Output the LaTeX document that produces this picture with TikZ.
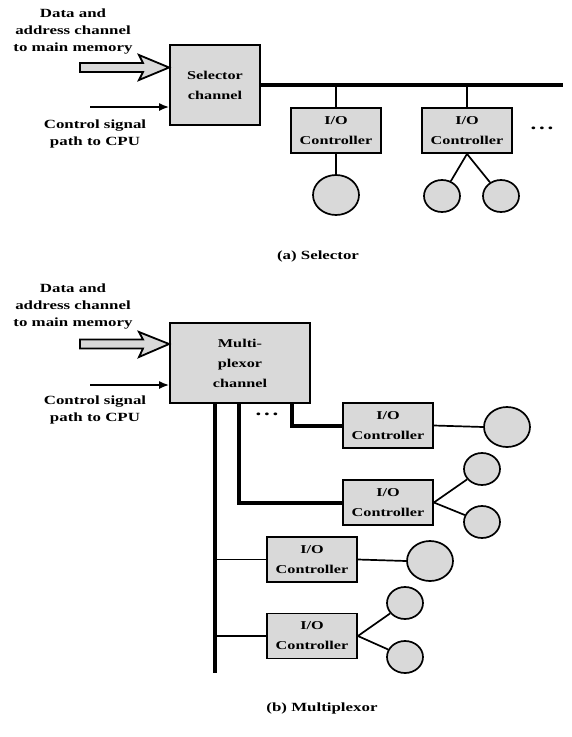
\documentclass[tikz,border=0pt]{standalone}
\usepackage{fontspec}
\setmainfont{Liberation Serif}[FakeStretch=1.35]
\usetikzlibrary{positioning, shapes.geometric, arrows, arrows.meta}
\definecolor{boxgray}{RGB}{217,217,217}
\tikzset{
  chan/.style={draw, line width=1.8pt, fill=boxgray, inner sep=0pt, align=center,
    font=\fontsize{12}{20}\selectfont\bfseries},
  ioc/.style={draw, line width=1.8pt, fill=boxgray, inner sep=0pt, align=center,
    minimum width=90pt, minimum height=45pt, font=\fontsize{12}{20}\selectfont\bfseries},
  bigdev/.style={draw, ellipse, line width=1.7pt, fill=boxgray, minimum width=46pt, minimum height=40pt},
  smalldev/.style={draw, ellipse, line width=1.7pt, fill=boxgray, minimum width=36pt, minimum height=32pt},
  lbl/.style={align=center, font=\fontsize{12.5}{17}\selectfont\bfseries},
  dots/.style={font=\fontsize{17}{17}\selectfont\bfseries},
  bus/.style={line width=4pt},
  link/.style={line width=1.7pt},
  ctl/.style={-{Latex[length=10pt, width=8pt]}, line width=1.6pt},
  fat/.style={draw, line width=1.8pt, fill=boxgray, line join=miter}
}
\begin{document}
\begin{tikzpicture}[x=1pt, y=-1pt]
\useasboundingbox (0,0) rectangle (572,737);

\node[chan, minimum width=90pt, minimum height=80pt] (sel) at (215,85) {Selector\\channel};
\node[lbl] (dataA) at (73,32) {Data and\\address channel\\to main memory};
\node[lbl] (ctlA) at (95,134) {Control signal\\path to CPU};
\draw[fat] (80,63) -- (143,63) -- (139,55) -- (sel.west |- 0,67.5) -- (139,80) -- (143,72) -- (80,72) -- cycle;
\draw[ctl] (90,107) -- (sel.west |- 0,107);
\coordinate (busA) at (563,85);
\draw[bus] (sel.east |- busA) -- (busA);
\node[ioc] (ioa1) at (336,130.5) {I/O\\Controller};
\node[ioc] (ioa2) at (467,130.5) {I/O\\Controller};
\draw[link] (ioa1.north |- busA) -- (ioa1.north);
\draw[link] (ioa2.north |- busA) -- (ioa2.north);
\node[dots] (dotsA) at (542,128) {.\,.\,.};
\node[bigdev] (da1) at (336,195) {};
\node[smalldev] (da2) at (442,196) {};
\node[smalldev] (da3) at (501,196) {};
\draw[link] (ioa1.south) -- (da1.north);
\draw[link] (ioa2.south) -- (da2);
\draw[link] (ioa2.south) -- (da3);
\node[lbl] (capA) at (318,256) {(a) Selector};

\node[chan, minimum width=140pt, minimum height=80pt] (mux) at (240,363) {Multi-\\plexor\\channel};
\node[lbl] (dataB) at (73,307) {Data and\\address channel\\to main memory};
\node[lbl] (ctlB) at (95,410) {Control signal\\path to CPU};
\draw[fat] (80,339.5) -- (143,339.5) -- (139,332) -- (mux.west |- 0,344) -- (139,357) -- (143,348.5) -- (80,348.5) -- cycle;
\draw[ctl] (90,385) -- (mux.west |- 0,385);
\coordinate (busB) at (215,673);
\draw[bus] (mux.south -| busB) -- (busB);
\node[ioc] (iob1) at (388,425.5) {I/O\\Controller};
\node[ioc] (iob2) at (388,502.5) {I/O\\Controller};
\node[ioc] (iob3) at (312,559.5) {I/O\\Controller};
\node[ioc] (iob4) at (312,636) {I/O\\Controller};
\draw[bus] (mux.south -| 239,0) |- (iob2.west);
\draw[bus] (mux.south -| 292,0) |- (iob1.west);
\node[dots] (dotsB) at (267,414) {.\,.\,.};
\draw[link] (busB |- iob3.west) -- (iob3.west);
\draw[link] (busB |- iob4.west) -- (iob4.west);
\node[bigdev] (db1) at (507,427) {};
\node[smalldev] (db2) at (482,469) {};
\node[smalldev] (db3) at (482,522) {};
\node[bigdev] (db4) at (430,561) {};
\node[smalldev] (db5) at (405,603) {};
\node[smalldev] (db6) at (405,657) {};
\draw[link] (iob1.east) -- (db1.west);
\draw[link] (iob2.east) -- (db2);
\draw[link] (iob2.east) -- (db3);
\draw[link] (iob3.east) -- (db4.west);
\draw[link] (iob4.east) -- (db5);
\draw[link] (iob4.east) -- (db6);
\node[lbl] (capB) at (322,708) {(b) Multiplexor};
\end{tikzpicture}
\end{document}
